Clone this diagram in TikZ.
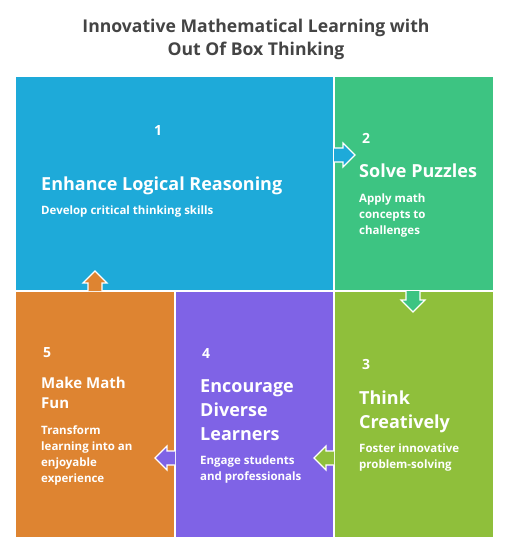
\documentclass[tikz,border=0pt]{standalone}
\usepackage{fontspec}
\setmainfont{Open Sans}
\usepackage{tikz}

\definecolor{stepblue}{HTML}{1EAAD9}
\definecolor{stepgreen}{HTML}{3DC482}
\definecolor{stepolive}{HTML}{8FBF3B}
\definecolor{steppurple}{HTML}{7F63E6}
\definecolor{steporange}{HTML}{DE8431}
\definecolor{titlegray}{HTML}{444444}

\tikzset{
  panel/.style={draw=none, inner sep=0, outer sep=0},
  num/.style={text=white, font=\bfseries\fontsize{14}{16}\selectfont, anchor=north west, inner sep=0},
  head/.style={text=white, font=\bfseries\fontsize{18}{24}\selectfont, anchor=north west, inner sep=0, align=left},
  small head/.style={text=white, font=\bfseries\fontsize{15}{20}\selectfont, anchor=north west, inner sep=0, align=left},
  desc/.style={text=white, font=\bfseries\fontsize{11.5}{16}\selectfont, anchor=north west, inner sep=0, align=left},
  flow/.style={draw=white, line width=1.2pt, line join=miter}
}

\begin{document}
\begin{tikzpicture}[x=1pt, y=-1pt]
  \useasboundingbox[fill=white] (0,0) rectangle (515,546);

  \node[text=titlegray, font=\bfseries\fontsize{17.6}{23}\selectfont, align=center] (title) at (256,39)
    {Innovative Mathematical Learning with\\Out Of Box Thinking};

  % panels
  \node[panel, fill=stepblue, minimum width=317pt, minimum height=213pt] (reason) at (174.5,183.5) {};
  \node[panel, fill=stepgreen, minimum width=158pt, minimum height=213pt] (puzzles) at (414,183.5) {};
  \node[panel, fill=stepolive, minimum width=158pt, minimum height=245pt] (creative) at (414,414.5) {};
  \node[panel, fill=steppurple, minimum width=157pt, minimum height=245pt] (diverse) at (254.5,414.5) {};
  \node[panel, fill=steporange, minimum width=158pt, minimum height=245pt] (fun) at (95,414.5) {};

  % arrows between panels
  \filldraw[flow, fill=stepblue] (334,148) -- (343,148) -- (343,143) -- (355,155) -- (343,167) -- (343,162) -- (334,162);
  \filldraw[flow, fill=stepgreen] (406,291) -- (406,300) -- (401,300) -- (413,312) -- (425,300) -- (420,300) -- (420,291);
  \filldraw[flow, fill=stepolive] (334,451) -- (326,451) -- (326,446) -- (314,458) -- (326,470) -- (326,465) -- (334,465);
  \filldraw[flow, fill=steppurple] (175,451) -- (167,451) -- (167,446) -- (155,458) -- (167,470) -- (167,465) -- (175,465);
  \filldraw[flow, fill=steporange] (88,291) -- (88,283) -- (83,283) -- (95,271) -- (107,283) -- (102,283) -- (102,291);

  % texts
  \node[num] (n1) at (154,125) {1};
  \node[head] (h1) at (41,177) {Enhance Logical Reasoning};
  \node[desc] (d1) at (41,206) {Develop critical thinking skills};

  \node[num] (n2) at (362,133) {2};
  \node[head] (h2) at (359,164) {Solve Puzzles};
  \node[desc] (d2) at (359,194) {Apply math\\concepts to\\challenges};

  \node[num] (n3) at (362,359) {3};
  \node[head] (h3) at (359,391) {Think\\Creatively};
  \node[desc] (d3) at (359,444) {Foster innovative\\problem-solving};

  \node[num] (n4) at (202,348) {4};
  \node[head] (h4) at (200,379) {Encourage\\Diverse\\Learners};
  \node[desc] (d4) at (200,456) {Engage students\\and professionals};

  \node[num] (n5) at (43,347) {5};
  \node[small head] (h5) at (41,377) {Make Math\\Fun};
  \node[desc] (d5) at (41,425) {Transform\\learning into an\\enjoyable\\experience};
\end{tikzpicture}
\end{document}
